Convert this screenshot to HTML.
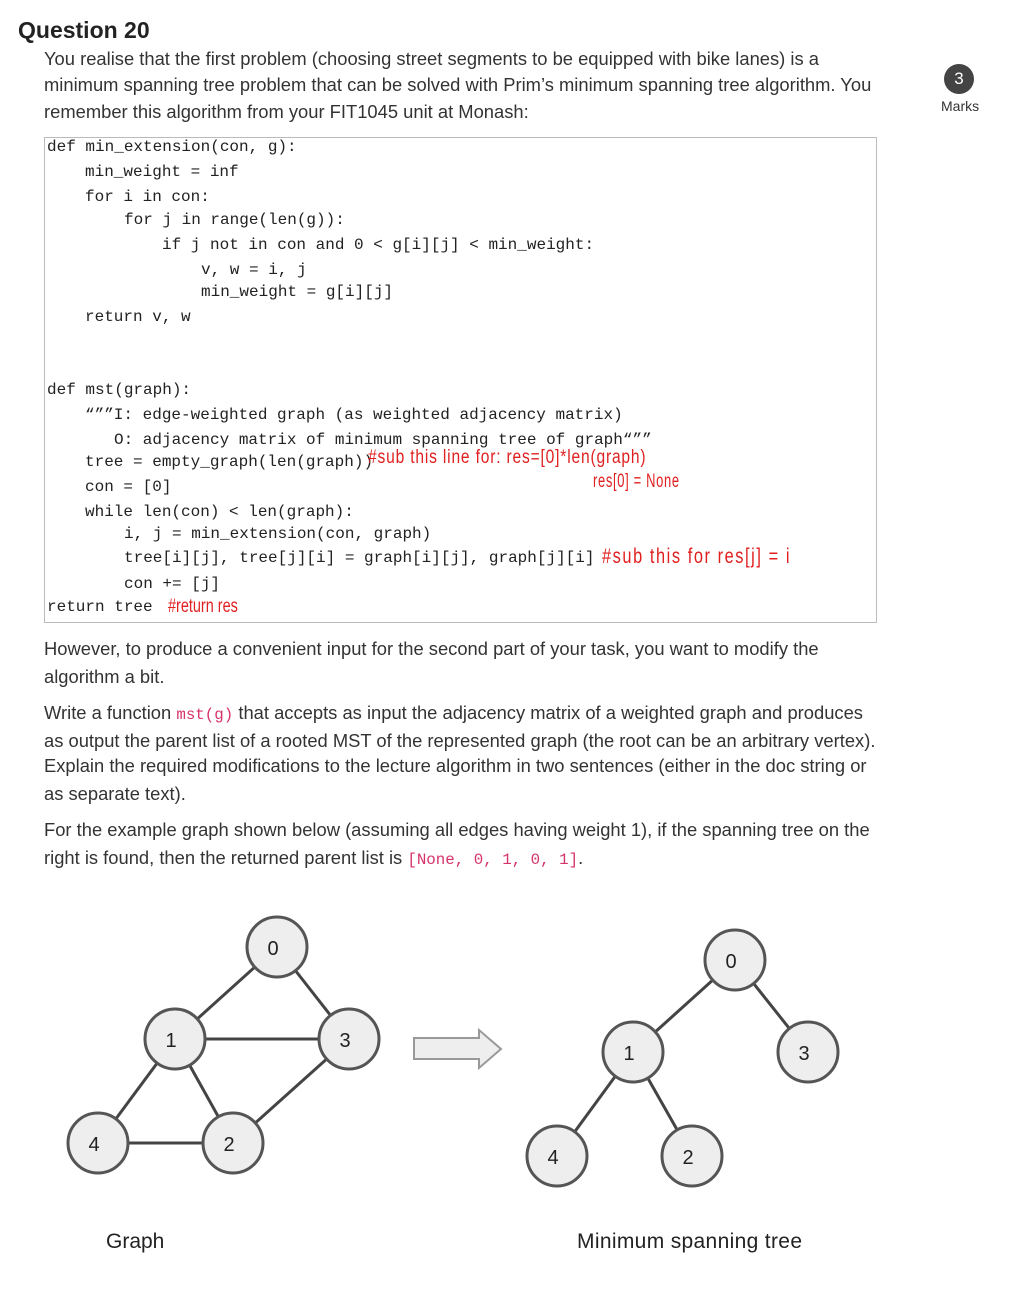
<!DOCTYPE html>
<html><head><meta charset="utf-8"><style>
body{margin:0;width:1020px;height:1306px;background:#fff;position:relative;font-family:"Liberation Sans",sans-serif;color:#333;overflow:hidden}
.t{position:absolute;white-space:nowrap;font-size:18px;transform-origin:left top;transform:scaleX(1.02)}
.c{position:absolute;white-space:nowrap;font-family:"Liberation Mono",monospace;font-size:16px;color:#222}
.r{position:absolute;white-space:nowrap;font-family:"Liberation Sans Narrow","Liberation Sans",sans-serif;color:#e02020;font-size:19px;transform-origin:left center}
.pk{font-family:"Liberation Mono",monospace;color:#d6336c;font-size:15.5px}
</style></head><body>
<div class="t" style="left:18px;top:17px;font-size:23px;font-weight:bold;color:#222;transform:none">Question 20</div>
<div style="position:absolute;left:944px;top:64px;width:30px;height:30px;border-radius:50%;background:#444;color:#fff;text-align:center;line-height:30px;font-size:17px">3</div>
<div class="t" style="left:941px;top:98px;font-size:14px;color:#333;transform:none">Marks</div>
<div class="t" style="left:44px;top:49px">You realise that the first problem (choosing street segments to be equipped with bike lanes) is a</div>
<div class="t" style="left:44px;top:75px">minimum spanning tree problem that can be solved with Prim’s minimum spanning tree algorithm. You</div>
<div class="t" style="left:44px;top:102px">remember this algorithm from your FIT1045 unit at Monash:</div>
<div style="position:absolute;left:44px;top:137px;width:831px;height:484px;border:1px solid #bbb"></div>
<div class="c" style="left:47px;top:138px">def min_extension(con, g):</div>
<div class="c" style="left:85px;top:163px">min_weight = inf</div>
<div class="c" style="left:85px;top:188px">for i in con:</div>
<div class="c" style="left:124px;top:211px">for j in range(len(g)):</div>
<div class="c" style="left:162px;top:236px">if j not in con and 0 &lt; g[i][j] &lt; min_weight:</div>
<div class="c" style="left:201px;top:261px">v, w = i, j</div>
<div class="c" style="left:201px;top:283px">min_weight = g[i][j]</div>
<div class="c" style="left:85px;top:308px">return v, w</div>
<div class="c" style="left:47px;top:381px">def mst(graph):</div>
<div class="c" style="left:85px;top:406px">“””I: edge-weighted graph (as weighted adjacency matrix)</div>
<div class="c" style="left:114px;top:431px">O: adjacency matrix of minimum spanning tree of graph“””</div>
<div class="c" style="left:85px;top:453px">tree = empty_graph(len(graph))</div>
<div class="r" style="left:368px;top:447px;transform:scaleX(0.82);letter-spacing:1px">#sub this line for:  res=[0]*len(graph)</div>
<div class="c" style="left:85px;top:478px">con = [0]</div>
<div class="r" style="left:593px;top:471px;transform:scaleX(0.68);letter-spacing:1px">res[0]  = None</div>
<div class="c" style="left:85px;top:503px">while len(con) &lt; len(graph):</div>
<div class="c" style="left:124px;top:525px">i, j = min_extension(con, graph)</div>
<div class="c" style="left:124px;top:549px">tree[i][j], tree[j][i] = graph[i][j], graph[j][i]</div>
<div class="r" style="left:602px;top:545px;font-size:21px;transform:scaleX(0.78);letter-spacing:2px">#sub this for res[j]  = i</div>
<div class="c" style="left:124px;top:575px">con += [j]</div>
<div class="c" style="left:47px;top:598px">return tree</div>
<div class="r" style="left:168px;top:596px;transform:scaleX(0.76)">#return res</div>
<div class="t" style="left:44px;top:639px">However, to produce a convenient input for the second part of your task, you want to modify the</div>
<div class="t" style="left:44px;top:667px">algorithm a bit.</div>
<div class="t" style="left:44px;top:703px">Write a function <span class="pk">mst(g)</span> that accepts as input the adjacency matrix of a weighted graph and produces</div>
<div class="t" style="left:44px;top:731px">as output the parent list of a rooted MST of the represented graph (the root can be an arbitrary vertex).</div>
<div class="t" style="left:44px;top:756px">Explain the required modifications to the lecture algorithm in two sentences (either in the doc string or</div>
<div class="t" style="left:44px;top:784px">as separate text).</div>
<div class="t" style="left:44px;top:820px">For the example graph shown below (assuming all edges having weight 1), if the spanning tree on the</div>
<div class="t" style="left:44px;top:848px">right is found, then the returned parent list is <span class="pk">[None, 0, 1, 0, 1]</span>.</div>
<svg style="position:absolute;left:0;top:0" width="1020" height="1306">
<g stroke="#444" stroke-width="3" fill="none">
<line x1="277" y1="947" x2="175" y2="1039"/><line x1="277" y1="947" x2="349" y2="1039"/>
<line x1="175" y1="1039" x2="349" y2="1039"/><line x1="175" y1="1039" x2="98" y2="1143"/>
<line x1="175" y1="1039" x2="233" y2="1143"/><line x1="349" y1="1039" x2="233" y2="1143"/>
<line x1="98" y1="1143" x2="233" y2="1143"/>
<line x1="735" y1="960" x2="633" y2="1052"/><line x1="735" y1="960" x2="808" y2="1052"/>
<line x1="633" y1="1052" x2="557" y2="1156"/><line x1="633" y1="1052" x2="692" y2="1156"/>
</g>
<g stroke="#555" stroke-width="3" fill="#eee">
<circle cx="277" cy="947" r="30"/><circle cx="175" cy="1039" r="30"/><circle cx="349" cy="1039" r="30"/>
<circle cx="98" cy="1143" r="30"/><circle cx="233" cy="1143" r="30"/>
<circle cx="735" cy="960" r="30"/><circle cx="633" cy="1052" r="30"/><circle cx="808" cy="1052" r="30"/>
<circle cx="557" cy="1156" r="30"/><circle cx="692" cy="1156" r="30"/>
</g>
<g font-family="Liberation Sans,sans-serif" font-size="20" fill="#222" text-anchor="middle">
<text x="273" y="955">0</text><text x="171" y="1047">1</text><text x="345" y="1047">3</text>
<text x="94" y="1151">4</text><text x="229" y="1151">2</text>
<text x="731" y="968">0</text><text x="629" y="1060">1</text><text x="804" y="1060">3</text>
<text x="553" y="1164">4</text><text x="688" y="1164">2</text>
</g>
<polygon points="414,1038 479,1038 479,1030 501,1049 479,1068 479,1059 414,1059" fill="#eee" stroke="#999" stroke-width="2"/>
<g font-family="Liberation Sans,sans-serif" font-size="21" fill="#222">
<text x="106" y="1248">Graph</text><text x="577" y="1248" textLength="225">Minimum spanning tree</text>
</g>
</svg>
</body></html>
